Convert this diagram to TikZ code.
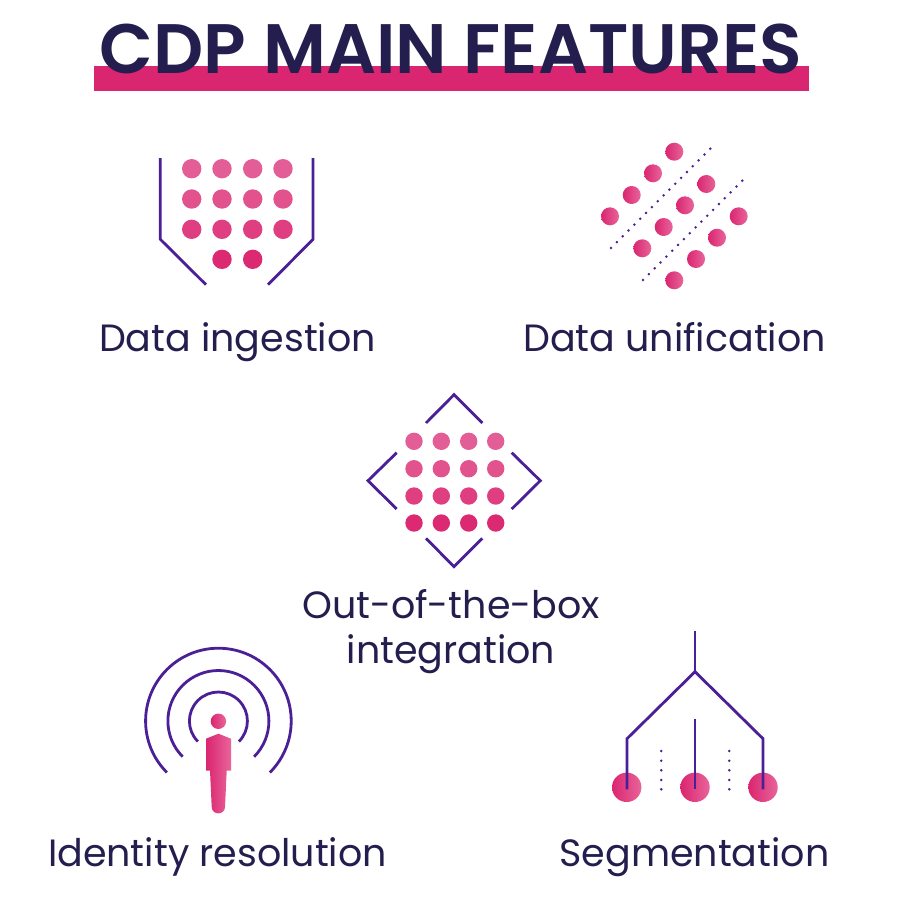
\documentclass[tikz,border=0pt]{standalone}
\usepackage{fontspec}
\setmainfont{Poppins}
\newfontfamily\titlefont{Poppins SemiBold}
\usepackage{tikz}
\definecolor{inkblue}{HTML}{231E4E}
\definecolor{barpink}{HTML}{DA2570}
\definecolor{lightpink}{HTML}{E8659A}
\definecolor{rowa}{HTML}{E35E96}
\definecolor{rowb}{HTML}{E2538E}
\definecolor{rowc}{HTML}{DF3F80}
\definecolor{rowd}{HTML}{DB2A72}
\definecolor{linepurple}{HTML}{4B2097}
\tikzset{
  stroke/.style={draw=linepurple,line width=2.8pt},
  gradpink/.style={left color=barpink,right color=lightpink,draw=none},
  label/.style={text=inkblue,anchor=base,inner sep=0pt,font=\fontsize{38}{44}\selectfont},
}
\begin{document}
\begin{tikzpicture}[x=1pt,y=-1pt]
          \useasboundingbox (0,0) rectangle (901,900);
          \fill[white] (0,0) rectangle (901,900);
          % Draw title with bar
          \fill[barpink] (93.5,66) rectangle (808.5,91);
          \node[text=inkblue,anchor=base,inner sep=0pt,font=\fontsize{70}{80}\selectfont\titlefont] (title) at (451,73) {CDP MAIN FEATURES};
          % Draw data ingestion
          \draw[stroke] (160.3,158) -- (160.3,239.3) -- (206,284.7);
          \draw[stroke] (313,158) -- (313,239.3) -- (268,284.7);
          \foreach \y/\c in {168.7/rowa,199/rowb,229.3/rowc}
            \foreach \x in {191.7,222,252.7,283}
              \fill[\c] (\x,\y) circle (9.7pt);
          \foreach \x in {222,252.7}
            \fill[rowd] (\x,259.3) circle (9.7pt);
          \node[label] (ingestion) at (237.5,351.3) {Data ingestion};
          % Draw data unification
          \foreach \x/\y in {674.3/151.7,653/173.3,631.7/195,610/216.3,706.3/184,685/205.3,663.7/227,642.3/248.3,738.7/216.3,717/237.7,696/259,674.3/280.3}
            \shade[gradpink] (\x,\y) circle (9pt);
          \foreach \i in {0,...,17} {
            \fill[linepurple] (611+\i*5.842,248-\i*5.842) circle (1.4pt);
            \fill[linepurple] (643+\i*5.842,280-\i*5.842) circle (1.4pt);
          }
          \node[label] (unification) at (674.5,351.3) {Data unification};
          % Draw integration
          \draw[stroke] (426,423) -- (454,394.7) -- (482.3,423);
          \draw[stroke] (426,538.3) -- (454,566.7) -- (482.3,538.3);
          \draw[stroke] (396.7,452.7) -- (368,480.7) -- (396.7,509);
          \draw[stroke] (511.7,452.7) -- (540.3,480.7) -- (511.7,509);
          \foreach \y/\c in {441.3/rowa,468.7/rowb,496/rowc,523/rowd}
            \foreach \x in {414,441.3,468.7,495.7}
              \fill[\c] (\x,\y) circle (8.7pt);
          \node[label] (integrationa) at (451,618.3) {Out-of-the-box};
          \node[label] (integrationb) at (451,663.3) {integration};
          % Draw identity resolution
          \foreach \r in {29,50.5,72.8}
            \draw[stroke] ([shift={(218.4,721)}]225:\r pt) arc[start angle=225,end angle=-45,radius=\r pt];
          \shade[gradpink] (218.4,721.3) circle (7.7pt);
          \shade[gradpink] (206,738.7) -- (218.4,733.7) -- (231,738.7) -- (231,770.7) -- (226.7,770.7) -- (225,807)
            .. controls (224.8,815.5) and (212,815.5) .. (211.7,807) -- (210,770.7) -- (206,770.7) -- cycle;
          \node[label] (identity) at (217.5,866.3) {Identity resolution};
          % Draw segmentation
          \foreach \x in {626.7,695,763}
            \shade[gradpink] (\x,787.3) circle (14.7pt);
          \draw[stroke] (695,631) -- (695,671.7);
          \draw[stroke] (627,789.3) -- (627,738.7) -- (695,671.7) -- (763,738.7) -- (763,789.3);
          \draw[stroke] (695,719.3) -- (695,789.3);
          \foreach \x in {661.3,729.3}
            \foreach \y in {751,760.7,770.3,780,789.3}
              \fill[linepurple] (\x,\y) circle (1.4pt);
          \node[label] (segmentation) at (694.5,866.3) {Segmentation};
        \end{tikzpicture}
\end{document}
